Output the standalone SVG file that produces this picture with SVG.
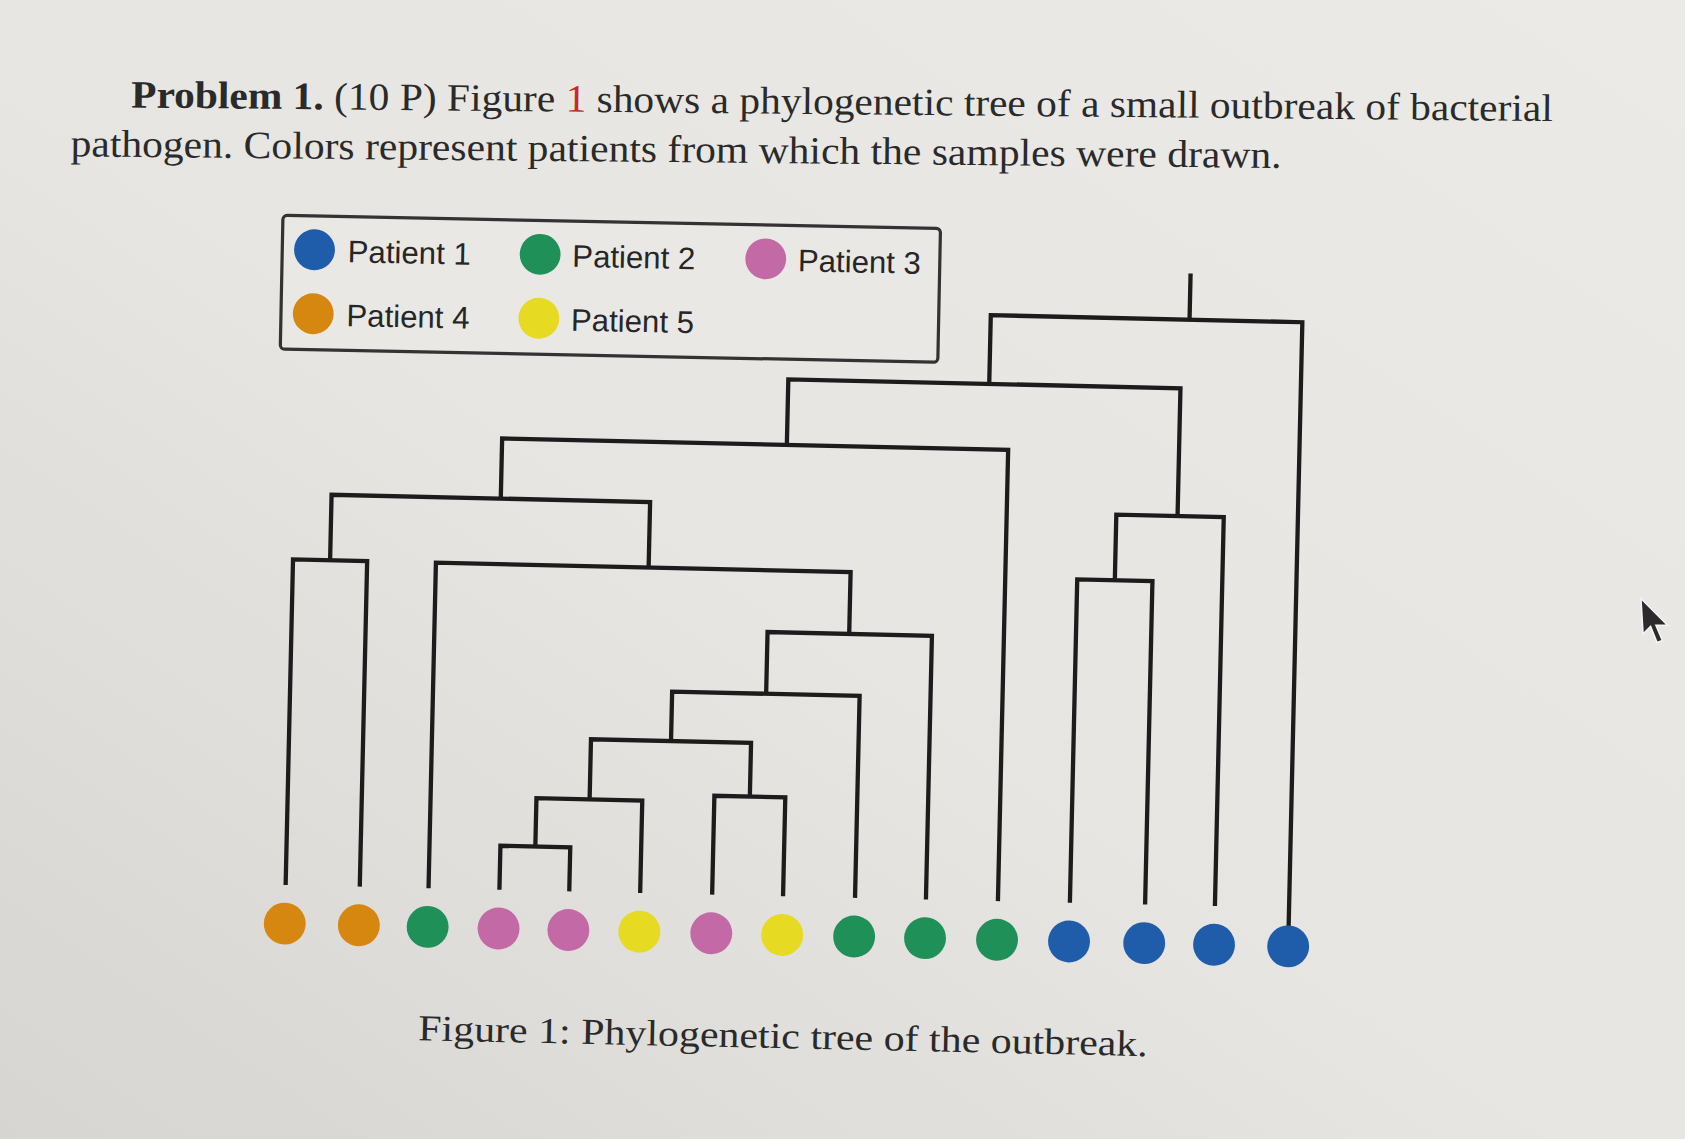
<svg xmlns="http://www.w3.org/2000/svg" width="1685" height="1139" viewBox="0 0 1685 1139">
<defs>
<linearGradient id="bg" x1="1" y1="0" x2="0" y2="1">
<stop offset="0" stop-color="#ebeae7"/>
<stop offset="0.55" stop-color="#e6e5e1"/>
<stop offset="1" stop-color="#d6d5d1"/>
</linearGradient>
<style>
.title{font-family:"Liberation Serif","DejaVu Serif",serif;font-size:36px;fill:#2a2a2a}
.cap{font-family:"Liberation Serif","DejaVu Serif",serif;font-size:34px;fill:#2a2a2a}
.leg{font-family:"Liberation Sans",Arial,sans-serif;font-size:29px;fill:#262626}
.br{fill:none;stroke:#1c1c1c;stroke-width:4;stroke-linejoin:miter;stroke-linecap:butt}
.p1{fill:#1f5dab}.p2{fill:#1f9058}.p3{fill:#c36aa6}.p4{fill:#d6870f}.p5{fill:#e6da22}
</style>
</defs>
<rect x="0" y="0" width="1685" height="1139" fill="url(#bg)"/>
<g transform="scale(1.0746)">
<g id="title" transform="rotate(0.55 122 100)">
<text class="title" x="122" y="100" textLength="1323" lengthAdjust="spacingAndGlyphs"><tspan font-weight="bold">Problem 1.</tspan> (10 P) Figure <tspan fill="#c8282a">1</tspan> shows a phylogenetic tree of a small outbreak of bacterial</text>
<text class="title" x="66" y="146" textLength="1127" lengthAdjust="spacingAndGlyphs">pathogen. Colors represent patients from which the samples were drawn.</text>
</g>
<g id="legend" transform="rotate(1.15 569 269)">
<rect x="262" y="206.5" width="612" height="124.5" rx="4" fill="#e9e8e5" stroke="#333" stroke-width="3"/>
<circle class="p1" cx="292" cy="238" r="19"/>
<text class="leg" x="323" y="249">Patient 1</text>
<circle class="p2" cx="502" cy="238" r="19"/>
<text class="leg" x="532" y="249">Patient 2</text>
<circle class="p3" cx="712" cy="238" r="19"/>
<text class="leg" x="742" y="249">Patient 3</text>
<circle class="p4" cx="292" cy="297.5" r="19"/>
<text class="leg" x="323" y="308.5">Patient 4</text>
<circle class="p5" cx="502" cy="297.5" r="19"/>
<text class="leg" x="532" y="308.5">Patient 5</text>
</g>
<g id="tree" transform="rotate(1.3 730 600)">
<g id="connectors">
<path class="br" d="M271 834 V531 H340 V834"/>
<path class="br" d="M470 834 V793 H535 V834"/>
<path class="br" d="M502.5 793 V748 H601 V834"/>
<path class="br" d="M668 834 V742 H734 V834"/>
<path class="br" d="M552 748 V692 H701 V742"/>
<path class="br" d="M626.5 692 V646 H801 V834"/>
<path class="br" d="M714 646 V588.5 H867 V834"/>
<path class="br" d="M404 834 V531 H790 V588.5"/>
<path class="br" d="M305.5 531 V470 H602 V531"/>
<path class="br" d="M463 470 V414 H934 V834"/>
<path class="br" d="M1001 834 V533 H1071 V834"/>
<path class="br" d="M1036 533 V472 H1136 V834"/>
<path class="br" d="M728 414 V353 H1093 V472"/>
<path class="br" d="M915 353 V289 H1205 V852"/>
<path class="br" d="M1100 289 V246"/>
</g>
<g id="leaf1"><circle class="p4" cx="271" cy="870" r="19.5"/></g>
<g id="leaf2"><circle class="p4" cx="340" cy="870" r="19.5"/></g>
<g id="leaf3"><circle class="p2" cx="404" cy="870" r="19.5"/></g>
<g id="leaf4"><circle class="p3" cx="470" cy="870" r="19.5"/></g>
<g id="leaf5"><circle class="p3" cx="535" cy="870" r="19.5"/></g>
<g id="leaf6"><circle class="p5" cx="601" cy="870" r="19.5"/></g>
<g id="leaf7"><circle class="p3" cx="668" cy="870" r="19.5"/></g>
<g id="leaf8"><circle class="p5" cx="734" cy="870" r="19.5"/></g>
<g id="leaf9"><circle class="p2" cx="801" cy="870" r="19.5"/></g>
<g id="leaf10"><circle class="p2" cx="867" cy="870" r="19.5"/></g>
<g id="leaf11"><circle class="p2" cx="934" cy="870" r="19.5"/></g>
<g id="leaf12"><circle class="p1" cx="1001" cy="870" r="19.5"/></g>
<g id="leaf13"><circle class="p1" cx="1071" cy="870" r="19.5"/></g>
<g id="leaf14"><circle class="p1" cx="1136" cy="870" r="19.5"/></g>
<g id="leaf15"><circle class="p1" cx="1205" cy="870" r="19.5"/></g>
</g>
<g id="caption" transform="rotate(1.25 389 968)">
<text class="cap" x="389" y="968" textLength="679" lengthAdjust="spacingAndGlyphs">Figure 1: Phylogenetic tree of the outbreak.</text>
</g>
<polygon id="cursor" points="1527,557 1529,590 1536,583 1542,598 1547,596 1541,582 1552,582" fill="#2b2b2b" stroke="#f4f4f4" stroke-width="1.5"/>
</g>
</svg>
